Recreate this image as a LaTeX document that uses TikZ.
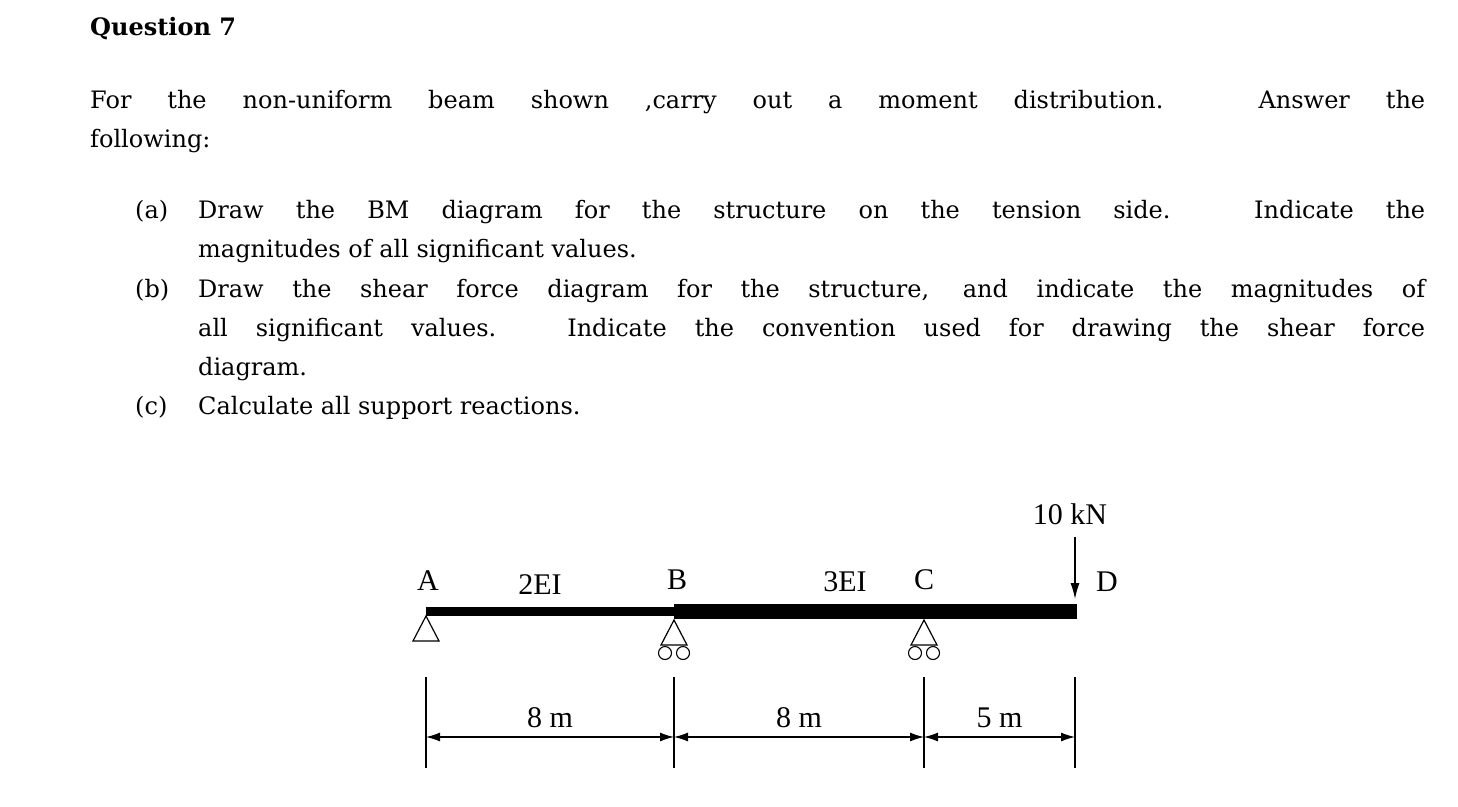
\documentclass[tikz,border=0pt]{standalone}
\usepackage{fontspec}
\setmainfont{DejaVu Serif}
\newfontfamily\tf{Liberation Serif}
\usetikzlibrary{arrows.meta}
\tikzset{
 body/.style={anchor=base west,inner sep=0pt,text width=1227pt,align=justify,font=\fontsize{24}{39.3}\selectfont},
 itm/.style={anchor=base west,inner sep=0pt,font=\fontsize{24}{30}\selectfont},
 lab/.style={anchor=base,inner sep=0pt,font=\tf\fontsize{30}{30}\selectfont},
 dim/.style={line width=1.2pt,{Latex[length=14pt,width=9pt]}-{Latex[length=14pt,width=9pt]}},
 tick/.style={line width=1.2pt},
 suppt/.style={line width=1.2pt,fill=white}
}
\begin{document}
\begin{tikzpicture}[x=1pt,y=-1pt]
\useasboundingbox (0,0) rectangle (1458,806);
\node[anchor=base west,inner sep=0pt,font=\fontsize{24}{30}\selectfont\bfseries] (q) at (90,35) {Question 7};
\node[body,text width=1335pt] (p) at (90,108) {For the non-uniform beam shown ,carry out a moment distribution. Answer the\linebreak following:};
\node[itm] (la) at (135,218) {(a)};
\node[body] (ta) at (198,218) {Draw the BM diagram for the structure on the tension side. Indicate the\linebreak magnitudes of all significant values.};
\node[itm] (lb) at (135,297) {(b)};
\node[body] (tb) at (198,297) {Draw the shear force diagram for the structure, and indicate the magnitudes of\linebreak all significant values. Indicate the convention used for drawing the shear force\linebreak diagram.};
\node[itm] (lc) at (135,414) {(c)};
\node[itm] (tc) at (198,414) {Calculate all support reactions.};
% beam
\fill (426,607) rectangle (676,616);
\fill (674,604) rectangle (1077,619);
% supports
\draw[suppt] (426,616) -- (413,641) -- (439,641) -- cycle;
\foreach \x in {674,924}{
 \draw[suppt] (\x,620) -- (\x-13,645) -- (\x+13,645) -- cycle;
 \draw[line width=1.1pt] (\x-9,653) circle (6.5);
 \draw[line width=1.1pt] (\x+9,653) circle (6.5);
}
% load
\node[lab] (P) at (1070,524) {10 kN};
\draw[line width=1.2pt,-{Latex[length=16pt,width=9pt]}] (1075,537) -- (1075,599);
% labels
\node[lab] (la2) at (428,590) {A};
\node[lab] (e2) at (540,594) {2EI};
\node[lab] (lb2) at (677,589) {B};
\node[lab] (e3) at (845,591) {3EI};
\node[lab] (lc2) at (924,589) {C};
\node[lab] (ld2) at (1107,591) {D};
% dimension lines
\foreach \x/\n in {426/a,674/b,924/c,1075/d}{
 \draw[tick] (\x,677) -- (\x,768);
 \coordinate (d\n) at (\x,737);
}
\draw[dim] (da) -- node[lab,pos=0.5,yshift=10pt] {8 m} (db);
\draw[dim] (db) -- node[lab,pos=0.5,yshift=10pt] {8 m} (dc);
\draw[dim] (dc) -- node[lab,pos=0.5,yshift=10pt] {5 m} (dd);
\end{tikzpicture}
\end{document}
